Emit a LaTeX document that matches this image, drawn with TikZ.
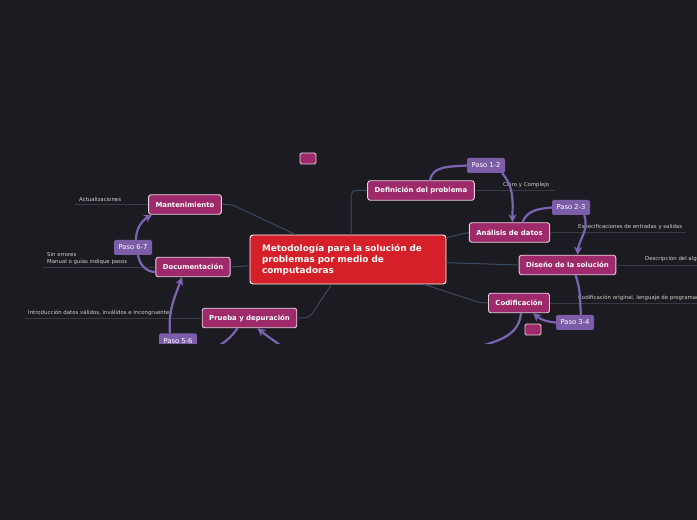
\documentclass[tikz,border=0pt]{standalone}
\usepackage{fontspec}
\setmainfont{DejaVu Sans}
\usepackage{tikz}
\usetikzlibrary{arrows.meta}

\definecolor{fondo}{HTML}{1C1B22}
\definecolor{rojotema}{HTML}{D51F29}
\definecolor{subcol}{HTML}{9E2A6B}
\definecolor{bordecol}{HTML}{E6D2DF}
\definecolor{pasocol}{HTML}{7B5EA7}
\definecolor{flechacol}{HTML}{7D63B3}
\definecolor{ramacol}{HTML}{3C4B5E}
\definecolor{lineacol}{HTML}{363B48}
\definecolor{notacol}{HTML}{D0D0D0}

\begin{document}
\begin{tikzpicture}[x=1pt,y=1pt,
    tema/.style={fill=rojotema,draw=white,line width=0.9pt,rounded corners=3pt,text=white,
        font=\bfseries\fontsize{8.9}{11}\selectfont,text width=172pt,align=left,
        inner xsep=12pt,minimum height=49pt},
    subtema/.style={fill=subcol,draw=bordecol,line width=0.9pt,rounded corners=2.5pt,text=white,
        font=\bfseries\fontsize{6.9}{8}\selectfont,inner xsep=7pt,inner ysep=0pt,minimum height=19.5pt},
    caja/.style={fill=subcol,draw=bordecol,line width=0.8pt,rounded corners=1.5pt,
        minimum width=16pt,minimum height=11pt,inner sep=0pt},
    paso/.style={fill=pasocol,rounded corners=2pt,text=white,font=\fontsize{6.8}{7}\selectfont,
        minimum width=38pt,minimum height=15pt,inner sep=0pt},
    nota/.style={text=notacol,font=\fontsize{5.4}{7}\selectfont,anchor=west,inner sep=0pt,align=left},
    rama/.style={draw=ramacol,line width=1pt,rounded corners=5pt},
    linea/.style={draw=lineacol,line width=0.8pt},
    trazo/.style={draw=flechacol,line width=2.2pt},
    flecha/.style={trazo,-{Stealth[length=8pt,width=8pt]}}]

    \useasboundingbox (0,0) rectangle (697,520);
    \fill[fondo] (0,0) rectangle (697,520);

    \begin{scope}
    \clip (0,176.5) rectangle (697,520);

    \node[tema] (cen) at (348,260.5) {Metodología para la solución de\\problemas por medio de\\computadoras};

    \node[subtema] (def) at (421,329.5) {Definición del problema};
    \node[subtema] (ana) at (509.5,287.5) {Análisis de datos};
    \node[subtema] (dis) at (567.5,255) {Diseño de la solución};
    \node[subtema] (cod) at (519,217) {Codificación};
    \node[subtema] (pru) at (249.5,202) {Prueba y depuración};
    \node[subtema] (doc) at (193,253) {Documentación};
    \node[subtema] (man) at (185,315.5) {Mantenimiento};

    \node[caja] (c1) at (308,361.5) {};
    \node[caja] (c2) at (533,190.5) {};

    \node[paso] (p12) at (486,354.5) {Paso 1-2};
    \node[paso] (p23) at (571,312.5) {Paso 2-3};
    \node[paso] (p34) at (575,197.5) {Paso 3-4};
    \node[paso] (p56) at (178,179) {Paso 5-6};
    \node[paso] (p67) at (133,272.5) {Paso 6-7};

    % notas
    \node[nota] (n1) at (503,335) {Claro y Complejo};
    \node[nota] (n2) at (578,293) {Especificaciones de entradas y salidas};
    \node[nota] (n3) at (645,261) {Descripción del algoritmo};
    \node[nota] (n4) at (578,222) {Codificación original, lenguaje de programación};
    \node[nota] (n5) at (28,207) {Introducción datos válidos, inválidos e incongruentes};
    \node[nota] (n6) at (47,261.5) {Sin errores\\Manual o guías indique pasos};
    \node[nota] (n7) at (79,321) {Actualizaciones};

    \draw[linea] (def.east) -- ++(80,0);
    \draw[linea] (ana.east) -- ++(136,0);
    \draw[linea] (dis.east) -- ++(90,0);
    \draw[linea] (cod.east) -- ++(150,0);
    \draw[linea] (pru.west) -- ++(-177,0);
    \draw[linea] (doc.west) -- ++(-112,0);
    \draw[linea] (man.west) -- ++(-73,0);

    % ramas
    \draw[rama] (cen) -- ([xshift=10]man.east) -- (man.east);
    \draw[rama] ([xshift=3]cen.north) |- (def.west);
    \draw[rama] (cen) -- (doc.east);
    \draw[rama] (cen) -- ([xshift=12]pru.east) -- (pru.east);
    \draw[rama] (cen) -- (ana.west);
    \draw[rama] (cen) -- (dis.west);
    \draw[rama] (cen) -- ([xshift=-7]cod.west) -- (cod.west);

    % pasos
    \draw[trazo] ([xshift=9]def.north) to[out=80,in=185] (p12.west);
    \draw[flecha] ([xshift=-3]p12.south east) to[out=-50,in=90] ([xshift=3]ana.north);
    \draw[trazo] ([xshift=13]ana.north) to[out=70,in=185] (p23.west);
    \draw[flecha] ([xshift=-6]p23.south east) to[out=-70,in=85] ([xshift=10]dis.north);
    \draw[trazo] ([xshift=8]dis.south) to[out=-70,in=95] ([xshift=6]p34.north);
    \draw[flecha] (p34.west) to[out=175,in=-40] ([xshift=14]cod.south);
    \coordinate (f1) at (462,168);
    \draw[trazo] ([xshift=2]cod.south) to[out=-95,in=20] (f1);
    \coordinate (f2) at (292,163);
    \draw[flecha] (f2) to[out=130,in=-40] ([xshift=8]pru.south);
    \coordinate (f3) at (200,166);
    \draw[trazo] ([xshift=-12]pru.south) to[out=-125,in=20] (f3);
    \draw[flecha] ([xshift=-8]p56.north) to[out=95,in=-110] ([xshift=-11]doc.south);
    \draw[trazo] ([yshift=-5]doc.west) to[out=180,in=-80] ([xshift=5]p67.south);
    \draw[flecha] ([xshift=3]p67.north) to[out=90,in=-150] ([xshift=4]man.south west);
    \end{scope}
\end{tikzpicture}
\end{document}
